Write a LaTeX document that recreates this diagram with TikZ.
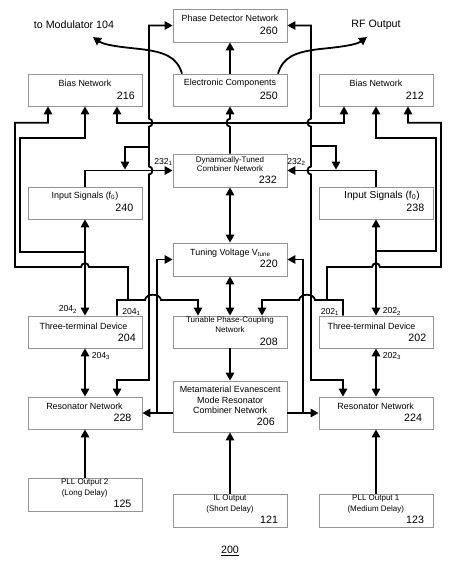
\documentclass[tikz,border=0pt]{standalone}
\usepackage{fontspec}
\setmainfont{Liberation Sans}
\usetikzlibrary{arrows.meta}
\begin{document}
\begin{tikzpicture}[x=0.75pt,y=-0.75pt,
  >={Triangle[length=6pt,width=6.3pt]},
  box/.style={draw=black!42,line width=0.6pt,minimum width=85.5pt,minimum height=24pt,inner sep=0pt},
  wire/.style={line width=1.35pt,black},
  ttl/.style={font=\fontsize{6.7}{8}\selectfont,inner sep=0pt},
  ttls/.style={font=\fontsize{6}{7.2}\selectfont,inner sep=0pt},
  num/.style={font=\fontsize{8}{9.6}\selectfont,inner sep=0pt,anchor=east},
  port/.style={font=\fontsize{6.5}{7.8}\selectfont,inner sep=0pt},
  lbl/.style={font=\fontsize{8}{9.6}\selectfont,inner sep=0pt}]
\useasboundingbox (0,0) rectangle (474,563);

% ---------- boxes ----------
\node[box,minimum height=24.75pt] (pd) at (230,25.5) {};
\node[box] (ec) at (230,90) {};
\node[box] (b216) at (85,90) {};
\node[box] (b212) at (376,90) {};
\node[box,minimum height=24.75pt] (dt232) at (230,170.5) {};
\node[box] (in240) at (85,203) {};
\node[box] (in238) at (376,203) {};
\node[box,minimum height=24.75pt] (tv220) at (230,259.5) {};
\node[box] (tp208) at (230,332) {};
\node[box] (tt204) at (85,332) {};
\node[box] (tt202) at (376,332) {};
\node[box] (rn228) at (85,413) {};
\node[box] (rn224) at (376,413) {};
\node[box,minimum height=38.25pt] (mm206) at (230,406.5) {};
\node[box,minimum height=24.75pt] (pll2) at (85,494.5) {};
\node[box,minimum height=24.75pt] (il121) at (230,510.5) {};
\node[box,minimum height=24.75pt] (pll1) at (376,510.5) {};

% ---------- box texts ----------
\node[ttl] (pdT) at (230,18.3) {Phase Detector Network};
\node[num] (pdN) at (278,30.7) {260};
\node[ttl] (ecT) at (230,83.3) {Electronic Components};
\node[num] (ecN) at (278,95.7) {250};
\node[ttl] (b216T) at (85,83.3) {Bias Network};
\node[num] (b216N) at (135,95.7) {216};
\node[ttl] (b212T) at (376,83.3) {Bias Network};
\node[num] (b212N) at (424,95.7) {212};
\node[ttls] (dtT1) at (230,160) {Dynamically-Tuned};
\node[ttls] (dtT2) at (230,169) {Combiner Network};
\node[num] (dtN) at (277,180) {232};
\node[ttl] (in240T) at (85,196) {Input Signals (f\textsubscript{0})};
\node[num] (in240N) at (133.5,207.7) {240};
\node[ttl,font=\fontsize{7.6}{9}\selectfont] (in238T) at (382,196) {Input Signals (f\textsubscript{0})};
\node[num] (in238N) at (424.5,208) {238};
\node[ttl] (tvT) at (230.5,253.3) {Tuning Voltage V\textsubscript{tune}};
\node[num] (tvN) at (278,264) {220};
\node[ttls] (tpT1) at (230,320.7) {Tunable Phase-Coupling};
\node[ttls] (tpT2) at (230,330) {Network};
\node[num] (tpN) at (278,341.7) {208};
\node[ttl] (tt204T) at (83.5,326) {Three-terminal Device};
\node[num] (tt204N) at (136,338.3) {204};
\node[ttl] (tt202T) at (371.5,326) {Three-terminal Device};
\node[num] (tt202N) at (426.5,338.3) {202};
\node[ttl] (rn228T) at (84.5,406.7) {Resonator Network};
\node[num] (rn228N) at (131.7,417.7) {228};
\node[ttl] (rn224T) at (375.7,406.7) {Resonator Network};
\node[num] (rn224N) at (422.3,417.7) {224};
\node[ttl] (mmT1) at (230.2,389.3) {Metamaterial Evanescent};
\node[ttl] (mmT2) at (230.2,400) {Mode Resonator};
\node[ttl] (mmT3) at (230.2,410.7) {Combiner Network};
\node[num] (mmN) at (275,421.7) {206};
\node[ttls] (pll2T1) at (84.7,482.7) {PLL Output 2};
\node[ttls] (pll2T2) at (84.7,493.3) {(Long Delay)};
\node[num] (pll2N) at (131.7,504) {125};
\node[ttls] (ilT1) at (230,498.3) {IL Output};
\node[ttls] (ilT2) at (230,509) {(Short Delay)};
\node[num] (ilN) at (278.3,520) {121};
\node[ttls] (pll1T1) at (375.8,498.3) {PLL Output 1};
\node[ttls] (pll1T2) at (375.8,509) {(Medium Delay)};
\node[num] (pll1N) at (424.3,520) {123};

% ---------- free labels ----------
\node[lbl] (modT) at (74,25) {to Modulator 104};
\node[lbl] (rfT) at (376,25) {RF Output};
\node[lbl] (figN) at (230,550.7) {\underline{200}};
\node[port] (p2321) at (163.5,162) {232\textsubscript{1}};
\node[port] (p2322) at (296.5,162) {232\textsubscript{2}};
\node[port] (p2042) at (68,309.3) {204\textsubscript{2}};
\node[port] (p2041) at (131.5,311.7) {204\textsubscript{1}};
\node[port] (p2043) at (101,356) {204\textsubscript{3}};
\node[port] (p2021) at (330,311.7) {202\textsubscript{1}};
\node[port] (p2022) at (392,311.7) {202\textsubscript{2}};
\node[port] (p2023) at (392,356) {202\textsubscript{3}};

\coordinate (modtip) at (93,37);
\coordinate (rftip) at (367,37);

% ---------- centre column ----------
\draw[wire,->] (ec.north) -- (pd.south);
\draw[wire,->] (182,0 |- ec.north) .. controls (177,57) and (165,52) .. (140,49)
   .. controls (120,47) and (104,45) .. (modtip);
\draw[wire,->] (278,0 |- ec.north) .. controls (283,57) and (295,52) .. (320,49)
   .. controls (340,47) and (356,45) .. (rftip);
\draw[wire,->] (dt232.north) -- (230,126.7) .. controls (225.5,126.7) and (225.5,118.7) .. (230,118.7) -- (ec.south);
\draw[wire,<->] (dt232.south) -- (tv220.north);
\draw[wire,<->] (tv220.south) -- (tp208.north);
\draw[wire,->] (tp208.south) -- (mm206.north);
\draw[wire,->] (il121.north) -- (mm206.south);

% ---------- bias line between 216 and 212 ----------
\draw[wire,<->] (117,0 |- b216.south) -- (117,122.7) -- (344,122.7) -- (344,0 |- b212.south);

% ---------- left side ----------
\draw[wire,<->] (pd.west) -- (149,25.5) -- (149,118.7) .. controls (153.5,118.7) and (153.5,126.7) .. (149,126.7)
   -- (149,166.5) .. controls (153.5,166.5) and (153.5,174.5) .. (149,174.5) -- (149,380) -- (117,380) -- (117,0 |- rn228.north);
\draw[wire,->] (149,146.7) -- (125,146.7) -- (125,169.6);
\draw[wire,->] (in240.north) -- (85,170.5) -- (dt232.west);
\draw[wire,<-] (48,0 |- b216.south) -- (48,122.7) -- (15,122.7) -- (15,267) -- (81,267)
   .. controls (81.5,262) and (88.5,262) .. (89,267) -- (128,267) -- (128,300) -- (117,300) -- (117,0 |- tt204.north);
\draw[wire,->] (128,300) -- (145,300) .. controls (146,293) and (160,293) .. (161,300) -- (198,300) -- (198,0 |- tp208.north);
\draw[wire,<-] (b216.south) -- (85,138.3) -- (20,138.3) -- (20,252) -- (85,252);
\draw[wire,->] (85,252) -- (in240.south);
\draw[wire,->] (85,252) -- (tt204.north);
\draw[wire,<->] (tt204.south) -- (rn228.north);
\draw[wire,->] (pll2.north) -- (rn228.south);
\draw[wire,->] (mm206.west |- rn228.east) -- (rn228.east);
\draw[wire,->] (157,413) -- (157,0 |- tv220.west) -- (tv220.west);

% ---------- right side ----------
\draw[wire,<->] (pd.east) -- (311,25.5) -- (311,118.7) .. controls (306.5,118.7) and (306.5,126.7) .. (311,126.7)
   -- (311,166.5) .. controls (306.5,166.5) and (306.5,174.5) .. (311,174.5) -- (311,380) -- (343,380) -- (343,0 |- rn224.north);
\draw[wire,->] (311,146) -- (336,146) -- (336,169.6);
\draw[wire,->] (in238.north) -- (376,170.5) -- (dt232.east);
\draw[wire,<-] (408,0 |- b212.south) -- (408,122.7) -- (441,122.7) -- (441,267) -- (380,267)
   .. controls (379.5,262) and (372.5,262) .. (372,267) -- (327,267) -- (327,300) -- (343,300) -- (343,0 |- tt202.north);
\draw[wire,->] (327,300) -- (315,300) .. controls (314,293) and (300,293) .. (299,300) -- (262,300) -- (262,0 |- tp208.north);
\draw[wire,<-] (b212.south) -- (376,138.3) -- (436,138.3) -- (436,251) -- (376,251);
\draw[wire,->] (376,251) -- (in238.south);
\draw[wire,->] (376,251) -- (tt202.north);
\draw[wire,<->] (tt202.south) -- (rn224.north);
\draw[wire,->] (pll1.north) -- (rn224.south);
\draw[wire,->] (mm206.east |- rn224.west) -- (rn224.west);
\draw[wire,->] (303,413) -- (303,0 |- tv220.east) -- (tv220.east);
\end{tikzpicture}
\end{document}
